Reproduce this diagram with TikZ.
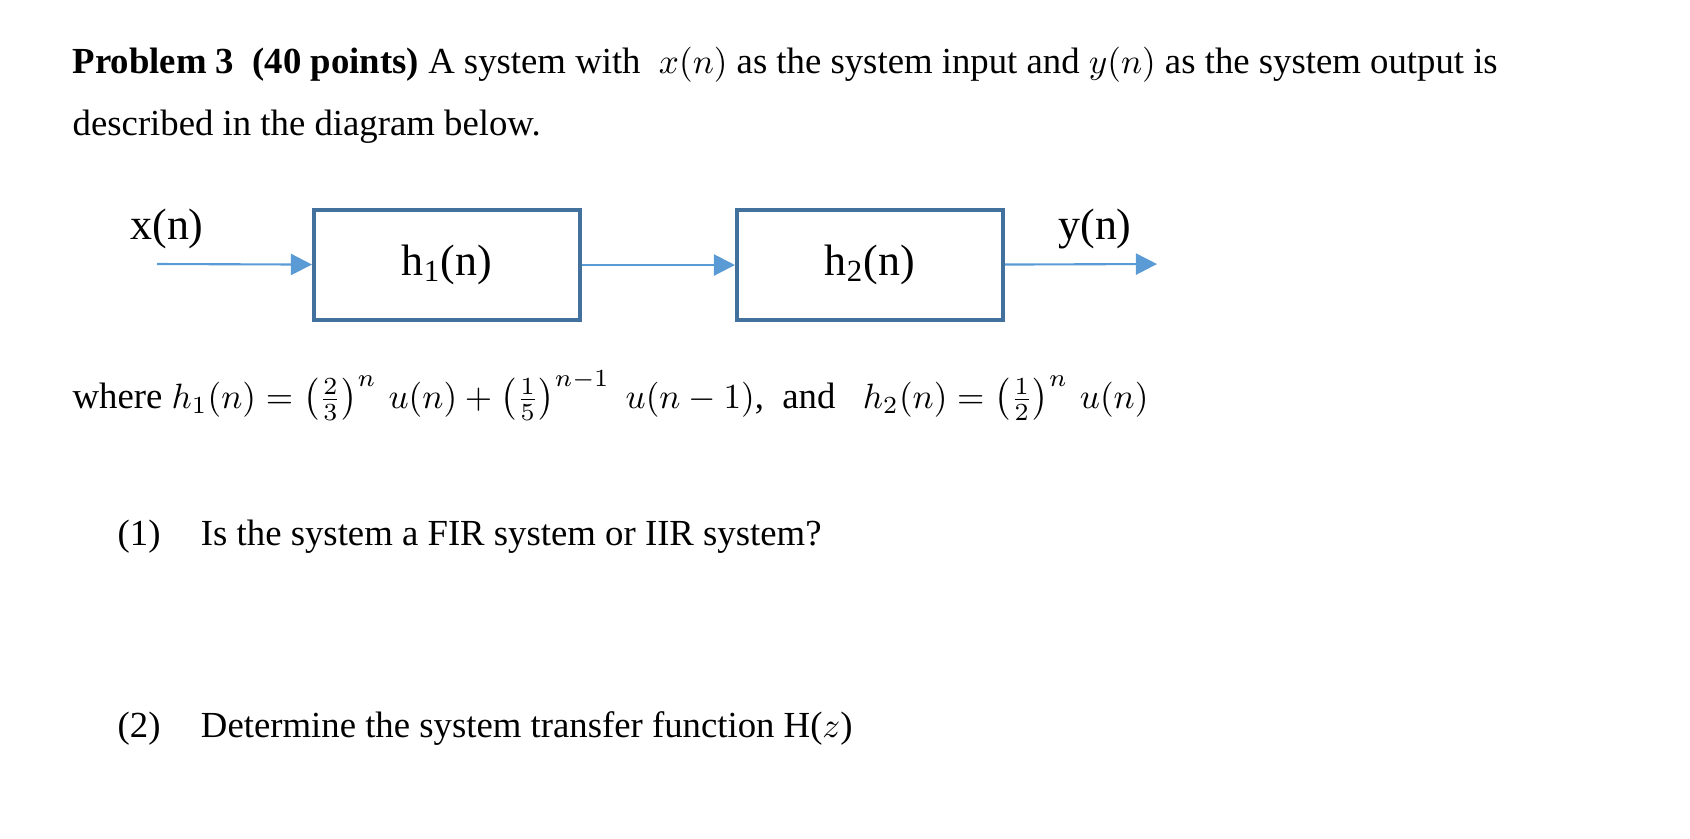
\documentclass[tikz,border=0pt]{standalone}
\usepackage{amsmath}
\usepackage{fontspec}
\setmainfont{Liberation Serif}
\usetikzlibrary{arrows.meta}
\definecolor{boxc}{HTML}{41719C}
\definecolor{arrc}{HTML}{5B9BD5}
\begin{document}
\begin{tikzpicture}[x=0.01cm,y=-0.01cm,
  txt/.style={anchor=base west,inner sep=0pt,font=\fontsize{10.45}{12}\selectfont},
  blk/.style={draw=boxc,line width=1.1pt,minimum width=2.66cm,minimum height=1.1cm,font=\fontsize{12.5}{14}\selectfont},
  lbl/.style={font=\fontsize{12.5}{14}\selectfont,inner sep=0pt},
  sig/.style={draw=arrc,line width=0.6pt,-{Triangle[length=6pt,width=6pt]}}]
\useasboundingbox (0,0) rectangle (1690,838);
\node[txt] (t1) at (72,73) {\textbf{Problem 3\ \ (40 points)} A system with \ $x(n)$ as the system input and $y(n)$ as the system output is};
\node[txt] (t2) at (72,135) {described in the diagram below.};
\node[blk] (b1) at (447,265) {h\textsubscript{1}(n)};
\node[blk] (b2) at (870,265) {h\textsubscript{2}(n)};
\coordinate (in) at (157,264);
\coordinate (out) at (1157,264);
\node[lbl] (xl) at (167,229) {x(n)};
\node[lbl] (yl) at (1095,229) {y(n)};
\draw[sig] (in) -- (b1);
\draw[sig] (b1) -- (b2);
\draw[sig] (b2) -- (out);
\node[txt] (f) at (72,408) {where $h_1(n)=\left(\tfrac{2}{3}\right)^{n}\,u(n)+\left(\tfrac{1}{5}\right)^{n-1}\;u(n-1)$,\ \ and \ \ $h_2(n)=\left(\tfrac{1}{2}\right)^{n}\,u(n)$};
\node[txt] (q1) at (117,545) {(1)\hspace{1.1em}Is the system a FIR system or IIR system?};
\node[txt] (q2) at (117,737) {(2)\hspace{1.1em}Determine the system transfer function H($z$)};
\end{tikzpicture}
\end{document}
